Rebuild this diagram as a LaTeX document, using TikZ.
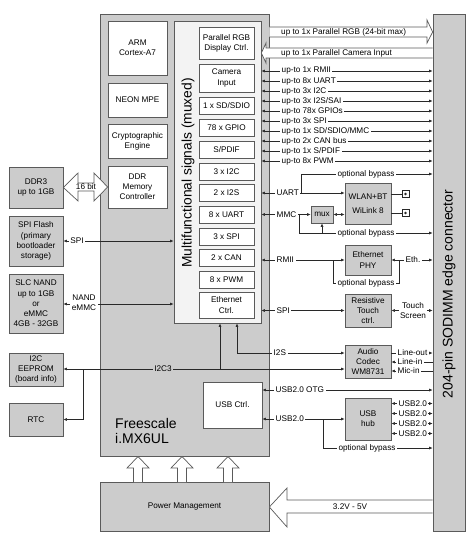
\documentclass[tikz,border=0pt]{standalone}
\usepackage{fontspec}
\setmainfont{Liberation Sans}
\usetikzlibrary{arrows.meta}
\definecolor{boxgray}{RGB}{204,204,204}
\definecolor{innerfill}{RGB}{243,243,243}
\definecolor{bordercol}{RGB}{90,90,90}
\definecolor{linecol}{RGB}{40,40,40}
\newcommand\smf{\fontsize{8.2}{10.2}\selectfont}
\tikzset{
  >={Latex[length=3.5pt,width=3pt]},
  gbox/.style={draw=bordercol, fill=boxgray, line width=0.7pt, align=center, inner sep=0pt, font=\smf},
  wbox/.style={gbox, fill=white},
  sig/.style={draw=linecol, line width=0.6pt},
  lab/.style={fill=white, inner xsep=1.5pt, inner ysep=0.5pt, font=\smf, align=center},
  hollow/.style={draw=bordercol, fill=white, line width=0.7pt, line join=miter},
}
\begin{document}
\begin{tikzpicture}[x=1pt,y=-1pt]
\useasboundingbox (0,0) rectangle (474,540);

% main blocks
\node[gbox, minimum width=169, minimum height=442] (imx) at (184.5,235) {};
\node[gbox, fill=innerfill, minimum width=87, minimum height=302] (mf) at (217.5,172) {};
\node[gbox, minimum width=32, minimum height=517] (sodimm) at (449,272.5) {};
\node[font=\fontsize{14}{16}\selectfont, rotate=90] (sodtxt) at (449,294) {204-pin SODIMM edge connector};
\node[font=\fontsize{13.8}{16}\selectfont, rotate=90] (mftxt) at (188,173) {Multifunctional signals (muxed)};
\node[anchor=north west, align=left, font=\fontsize{14}{15.5}\selectfont, inner sep=0] (fs) at (115,418) {Freescale\\i.MX6UL};

% left column inside CPU
\node[wbox, minimum width=59, minimum height=54] (arm) at (137.5,48) {ARM\\Cortex-A7};
\node[wbox, minimum width=59, minimum height=34] (neon) at (137.5,100) {NEON MPE};
\node[wbox, minimum width=59, minimum height=34] (crypto) at (137.5,141) {Cryptographic\\Engine};
\node[wbox, minimum width=59, minimum height=42] (ddrc) at (137.5,187) {DDR\\Memory\\Controller};

% peripherals
\node[wbox, minimum width=55, minimum height=32] (prgb) at (226.5,43) {Parallel RGB\\Display Ctrl.};
\node[wbox, minimum width=55, minimum height=28] (cam) at (226.5,78) {Camera\\Input};
\node[wbox, minimum width=55, minimum height=17] (sdio) at (226.5,105.5) {1 x SD/SDIO};
\node[wbox, minimum width=55, minimum height=17] (gpio) at (226.5,127.5) {78 x GPIO};
\node[wbox, minimum width=55, minimum height=17] (spdif) at (226.5,149.5) {S/PDIF};
\node[wbox, minimum width=55, minimum height=17] (i2c) at (226.5,171.5) {3 x I2C};
\node[wbox, minimum width=55, minimum height=17] (i2s) at (226.5,193) {2 x I2S};
\node[wbox, minimum width=55, minimum height=17] (uart) at (226.5,214.5) {8 x UART};
\node[wbox, minimum width=55, minimum height=17] (spi) at (226.5,236.5) {3 x SPI};
\node[wbox, minimum width=55, minimum height=17] (can) at (226.5,258) {2 x CAN};
\node[wbox, minimum width=55, minimum height=17] (pwm) at (226.5,279.5) {8 x PWM};
\node[wbox, minimum width=55, minimum height=26] (ethc) at (226.5,305) {Ethernet\\Ctrl.};
\node[wbox, minimum width=59, minimum height=46] (usb) at (232.5,405) {USB Ctrl.};

% left external
\node[gbox, minimum width=54, minimum height=41] (ddr3) at (36,187.5) {DDR3\\up to 1GB};
\node[gbox, minimum width=54, minimum height=50] (spif) at (36,241) {SPI Flash\\(primary\\bootloader\\storage)};
\node[gbox, minimum width=54, minimum height=59] (nand) at (36,303.5) {SLC NAND\\up to 1GB\\or\\eMMC\\4GB - 32GB};
\node[gbox, minimum width=54, minimum height=33] (eeprom) at (36,369.5) {I2C\\EEPROM\\(board info)};
\node[gbox, minimum width=54, minimum height=33] (rtc) at (36,419.5) {RTC};

% right external
\node[gbox, minimum width=46, minimum height=41] (wlan) at (368,203.5) {WLAN+BT\\[3.5pt]WiLink 8};
\node[gbox, minimum width=22, minimum height=17] (mux) at (322,214.5) {mux};
\node[gbox, minimum width=46, minimum height=30] (phy) at (368,260) {Ethernet\\PHY};
\node[gbox, minimum width=46, minimum height=33] (touch) at (368,310.5) {Resistive\\Touch\\ctrl.};
\node[gbox, minimum width=46, minimum height=33] (codec) at (368,361.5) {Audio\\Codec\\WM8731};
\node[gbox, minimum width=46, minimum height=42] (hub) at (368,419) {USB\\hub};
\node[gbox, minimum width=169, minimum height=49] (power) at (184.5,506.5) {Power Management};

% antennas
\node[draw=linecol, fill=white, line width=0.6pt, minimum size=7, inner sep=0] (ant1) at (405.5,194) {};
\node[draw=linecol, fill=white, line width=0.6pt, minimum size=7, inner sep=0] (ant2) at (405.5,213) {};
\fill[linecol] (ant1.center) circle (1.3);
\fill[linecol] (ant2.center) circle (1.3);
\draw[sig] (wlan.east |- ant1) -- (ant1.west);
\draw[sig] (wlan.east |- ant2) -- (ant2.west);

% hollow arrows
\filldraw[hollow] (imx.east |- 0,27) -- (427,27) -- (427,20) -- (sodimm.west |- 0,32) -- (427,43) -- (427,37) -- (imx.east |- 0,37);
\node[font=\smf, anchor=west, inner sep=0] (rgbl) at (281,32) {up to 1x Parallel RGB (24-bit max)};
\filldraw[hollow] (sodimm.west |- 0,48) -- (266,48) -- (266,43) -- (mf.east |- 0,53) -- (266,63) -- (266,58) -- (sodimm.west |- 0,58);
\node[font=\smf, anchor=west, inner sep=0] (caml) at (281,53) {up to 1x Parallel Camera Input};
\filldraw[hollow] (ddr3.east) -- (78,173) -- (78,183) -- (94,183) -- (94,173) -- (ddrc.west) -- (94,201) -- (94,191) -- (78,191) -- (78,201) -- cycle;
\node[font=\smf, inner sep=0] (bit16) at (86,186.5) {16 bit};
\filldraw[hollow] (sodimm.west |- 0,500) -- (287,500) -- (287,488) -- (power.east |- 0,507) -- (287,527) -- (287,513) -- (sodimm.west |- 0,513);
\node[font=\smf, inner sep=0] (volt) at (350,506.5) {3.2V - 5V};
\foreach \px in {138,182,228} {
  \filldraw[hollow] (\px-4.5,482) -- (\px-4.5,468) -- (\px-11,468) -- (\px,456.5) -- (\px+11,468) -- (\px+4.5,468) -- (\px+4.5,482);
}

% muxed signal lines
\draw[sig,<->] (mf.east |- 0,71) -- (sodimm.west |- 0,71);
\draw[sig,<->] (mf.east |- 0,81) -- (sodimm.west |- 0,81);
\draw[sig,<->] (mf.east |- 0,91) -- (sodimm.west |- 0,91);
\draw[sig,<->] (mf.east |- 0,101) -- (sodimm.west |- 0,101);
\draw[sig,<->] (mf.east |- 0,111) -- (sodimm.west |- 0,111);
\draw[sig,<->] (mf.east |- 0,121) -- (sodimm.west |- 0,121);
\draw[sig,<->] (mf.east |- 0,131) -- (sodimm.west |- 0,131);
\draw[sig,<->] (mf.east |- 0,141) -- (sodimm.west |- 0,141);
\draw[sig,<->] (mf.east |- 0,151) -- (sodimm.west |- 0,151);
\draw[sig,<->] (mf.east |- 0,161) -- (sodimm.west |- 0,161);
\node[lab, anchor=west] (s1) at (280,71) {up-to 1x RMII};
\node[lab, anchor=west] (s2) at (280,81) {up-to 8x UART};
\node[lab, anchor=west] (s3) at (280,91) {up-to 3x I2C};
\node[lab, anchor=west] (s4) at (280,101) {up-to 3x I2S/SAI};
\node[lab, anchor=west] (s5) at (280,111) {up-to 78x GPIOs};
\node[lab, anchor=west] (s6) at (280,121) {up-to 3x SPI};
\node[lab, anchor=west] (s7) at (280,131) {up-to 1x SD/SDIO/MMC};
\node[lab, anchor=west] (s8) at (280,141) {up-to 2x CAN bus};
\node[lab, anchor=west] (s9) at (280,151) {up-to 1x S/PDIF};
\node[lab, anchor=west] (s10) at (280,161) {up-to 8x PWM};

% WLAN
\coordinate (b1) at (301,193);
\draw[sig,<->] (mf.east |- b1) -- (wlan.west |- b1);
\draw[sig,->] (b1) -- (301,174) -- (sodimm.west |- 0,174);
\node[lab] (ob1) at (366,174) {optional bypass};
\node[lab, anchor=west] (uartl) at (275,193) {UART};
\coordinate (b2) at (299,214.5);
\draw[sig,<->] (mf.east |- mux.west) -- (mux.west);
\draw[sig,<->] (mux.east) -- (wlan.west |- mux.east);
\draw[sig,->] (b2) -- (299,233) -- (sodimm.west |- 0,233);
\draw[sig,->] (mux.south |- 0,233) -- (mux.south);
\node[lab] (ob2) at (366,233) {optional bypass};
\node[lab, anchor=west] (mmcl) at (275,214.5) {MMC};

% Ethernet
\draw[sig,<->] (mf.east |- phy.west) -- (phy.west);
\draw[sig,<->] (phy.east) -- (sodimm.west |- phy.east);
\draw[sig] (333,260) -- (333,283) -- (399,283) -- (399,260);
\node[lab, anchor=west] (rmiil) at (275,260) {RMII};
\node[lab] (ethl) at (413,260) {Eth.};
\node[lab] (ob3) at (366,283) {optional bypass};

% Touch
\draw[sig,<->] (mf.east |- touch.west) -- (touch.west);
\draw[sig,<->] (touch.east) -- (sodimm.west |- touch.east);
\node[lab, anchor=west] (spil) at (275,310.5) {SPI};
\node[lab] (tsl) at (413,310.5) {Touch\\Screen};

% I2S / I2C3
\coordinate (j1) at (220,369);
\coordinate (j2) at (83,369);
\draw[sig,<->] (mf.south -| 237,0) -- (237,353) -- (codec.west |- 0,353);
\draw[sig,<-] (mf.south -| j1) -- (j1);
\draw[sig,->] (j1) -- (eeprom.east |- j1);
\draw[sig,->] (j1) -- (codec.west |- j1);
\draw[sig,->] (j2) -- (j2 |- rtc.east) -- (rtc.east);
\node[lab, anchor=west] (i2sl) at (272,353) {I2S};
\node[lab, fill=boxgray] (i2c3l) at (163,369) {I2C3};

% audio
\draw[sig,->] (codec.east |- 0,353) -- (sodimm.west |- 0,353);
\draw[sig,<-] (codec.east |- 0,362) -- (sodimm.west |- 0,362);
\draw[sig,<-] (codec.east |- 0,371) -- (sodimm.west |- 0,371);
\node[lab, anchor=west] (lo) at (396,353) {Line-out};
\node[lab, anchor=west] (li) at (396,362) {Line-in};
\node[lab, anchor=west] (mi) at (396,371) {Mic-in};

% USB
\coordinate (b3) at (323,419);
\draw[sig,<->] (usb.east |- 0,390) -- (sodimm.west |- 0,390);
\draw[sig,<->] (usb.east |- hub.west) -- (hub.west);
\draw[sig,->] (b3) -- (323,448) -- (sodimm.west |- 0,448);
\node[lab, anchor=west] (otgl) at (274,390) {USB2.0 OTG};
\node[lab, anchor=west] (usbl) at (274,419) {USB2.0};
\node[lab] (ob4) at (367,448) {optional bypass};
\draw[sig,<->] (hub.east |- 0,403.5) -- (sodimm.west |- 0,403.5);
\draw[sig,<->] (hub.east |- 0,413.5) -- (sodimm.west |- 0,413.5);
\draw[sig,<->] (hub.east |- 0,423.5) -- (sodimm.west |- 0,423.5);
\draw[sig,<->] (hub.east |- 0,433.5) -- (sodimm.west |- 0,433.5);
\node[lab, anchor=west] (u1) at (397,403.5) {USB2.0};
\node[lab, anchor=west] (u2) at (397,413.5) {USB2.0};
\node[lab, anchor=west] (u3) at (397,423.5) {USB2.0};
\node[lab, anchor=west] (u4) at (397,433.5) {USB2.0};

% left side
\draw[sig,<->] (spif.east) -- (mf.west |- spif.east);
\node[lab] (spifl) at (77,241) {SPI};
\draw[sig,<->] (nand.east |- 0,304) -- (mf.west |- 0,304);
\node[lab, font=\fontsize{8.2}{9.6}\selectfont] (nandl) at (84,303) {NAND\\eMMC};
\end{tikzpicture}
\end{document}
